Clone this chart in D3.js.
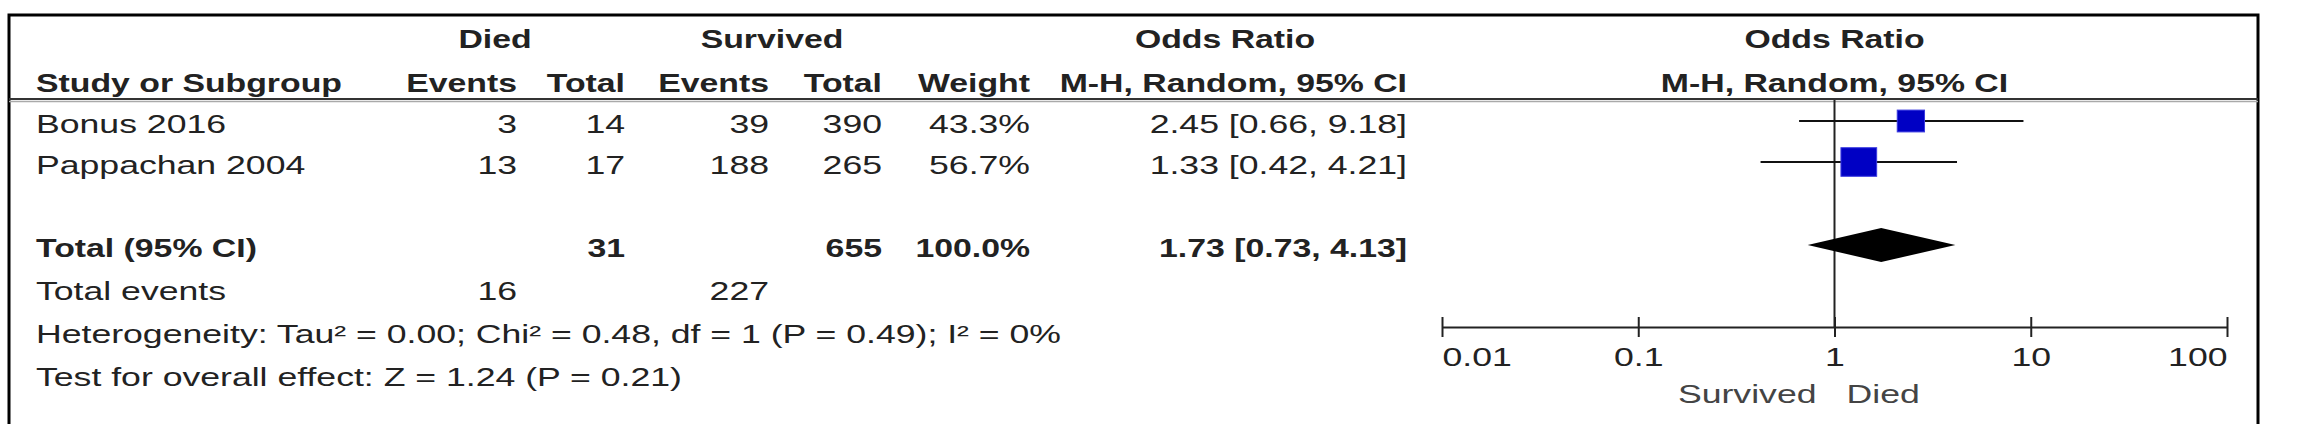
<!DOCTYPE html>
<html>
<head>
<meta charset="utf-8">
<script src="https://cdn.jsdelivr.net/npm/d3@7"></script>
<style>
  html, body { margin: 0; padding: 0; background: #fff; }
  svg text { font-family: "Liberation Sans", Arial, sans-serif; fill: #222; }
</style>
</head>
<body>
<div id="plot"></div>
<script>
  'use strict';

  // study rows
  var studies = ['Bonus 2016', 'Pappachan 2004'];
  var diedEvents = [3, 13];
  var diedTotal = [14, 17];
  var survEvents = [39, 188];
  var survTotal = [390, 265];
  var weights = [43.3, 56.7];
  var orEst = [2.45, 1.33];
  var orLow = [0.66, 0.42];
  var orHigh = [9.18, 4.21];

  // pooled result
  var pooledOR = [1.73, 0.73, 4.13]; // estimate, lower, upper
  var pooledTotals = [31, 655];
  var pooledWeight = 100.0;
  var pooledEvents = [16, 227];
  var heterogeneity = 'Heterogeneity: Tau\u00b2 = 0.00; Chi\u00b2 = 0.48, df = 1 (P = 0.49); I\u00b2 = 0%';
  var overallEffect = 'Test for overall effect: Z = 1.24 (P = 0.21)';

  // axis
  var axisTicks = [0.01, 0.1, 1, 10, 100];
  var tickLabels = ['0.01', '0.1', '1', '10', '100'];
  var favourLabels = ['Survived', 'Died'];

  var W = 2310, H = 424;
  var FS = 26, SX = 1.37, SXB = 1.3;   // font size, horizontal stretch (regular / bold)

  var svg = d3.select('#plot').append('svg')
    .attr('width', W)
    .attr('height', H);

  var x = d3.scaleLog().domain([0.01, 100]).range([1442, 2227]);
  // row index -> row centre (upper block and summary block)
  var rowTop = d3.scaleLinear().domain([0, 1]).range([121, 162]);
  var rowLow = d3.scaleLinear().domain([3, 6]).range([245, 374]);
  function row(i) { return i < 3 ? rowTop(i) : rowLow(i); }
  var axisY = 327;

  // right edges of table columns
  var col = {study: 36, diedE: 517, diedT: 625, survE: 769, survT: 882, weight: 1030, or: 1407};

  function txt(px, py, s, anchor, bold, color) {
    return svg.append('text')
      .attr('transform', 'translate(' + px + ',' + py + ') scale(' + (bold ? SXB : SX) + ',1)')
      .attr('text-anchor', anchor || 'start')
      .style('font-size', FS + 'px')
      .style('font-weight', bold ? 'bold' : 'normal')
      .style('fill', color || '#222')
      .text(s);
  }
  function base(i) { return row(i) + 12; }
  var fmt1 = d3.format('.1f'), fmt2 = d3.format('.2f');

  // frame
  svg.append('path')
    .attr('d', 'M9,' + H + 'V15H2258V' + H)
    .attr('fill', 'none')
    .attr('stroke', '#000')
    .attr('stroke-width', 3);

  // header
  txt(495, 48, 'Died', 'middle', true);
  txt(772, 48, 'Survived', 'middle', true);
  txt(1225, 48, 'Odds Ratio', 'middle', true);
  txt(x(1), 48, 'Odds Ratio', 'middle', true);

  txt(col.study, base(-1), 'Study or Subgroup', 'start', true);
  txt(col.diedE, base(-1), 'Events', 'end', true);
  txt(col.diedT, base(-1), 'Total', 'end', true);
  txt(col.survE, base(-1), 'Events', 'end', true);
  txt(col.survT, base(-1), 'Total', 'end', true);
  txt(col.weight, base(-1), 'Weight', 'end', true);
  txt(col.or, base(-1), 'M-H, Random, 95% CI', 'end', true);
  txt(x(1), base(-1), 'M-H, Random, 95% CI', 'middle', true);

  svg.append('line')
    .attr('x1', 9).attr('x2', 2258).attr('y1', 99).attr('y2', 99)
    .attr('stroke', '#333').attr('stroke-width', 2);
  svg.append('line')
    .attr('x1', 9).attr('x2', 2258).attr('y1', 101.5).attr('y2', 101.5)
    .attr('stroke', '#aaa').attr('stroke-width', 1.5);

  // null line
  svg.append('line')
    .attr('x1', x(1)).attr('x2', x(1))
    .attr('y1', 100).attr('y2', axisY)
    .attr('stroke', '#222').attr('stroke-width', 2);

  // study rows
  studies.forEach(function (s, i) {
    txt(col.study, base(i), s, 'start');
    txt(col.diedE, base(i), diedEvents[i], 'end');
    txt(col.diedT, base(i), diedTotal[i], 'end');
    txt(col.survE, base(i), survEvents[i], 'end');
    txt(col.survT, base(i), survTotal[i], 'end');
    txt(col.weight, base(i), fmt1(weights[i]) + '%', 'end');
    txt(col.or, base(i), fmt2(orEst[i]) + ' [' + fmt2(orLow[i]) + ', ' + fmt2(orHigh[i]) + ']', 'end');

    svg.append('line')
      .attr('x1', x(orLow[i])).attr('x2', x(orHigh[i]))
      .attr('y1', row(i)).attr('y2', row(i))
      .attr('stroke', '#111').attr('stroke-width', 2);
  });

  var side = d3.scaleLinear().domain([0, 100]).range([0, 63]);
  svg.selectAll('rect.study')
    .data(studies)
    .join('rect')
    .attr('class', 'study')
    .attr('x', function (d, i) { return x(orEst[i]) - side(weights[i]) / 2; })
    .attr('y', function (d, i) { return row(i) - side(weights[i]) / 1.25 / 2; })
    .attr('width', function (d, i) { return side(weights[i]); })
    .attr('height', function (d, i) { return side(weights[i]) / 1.25; })
    .attr('fill', '#0000c4')
    .attr('stroke', '#3a3ae0')
    .attr('stroke-width', 1);

  // pooled row
  txt(col.study, base(3), 'Total (95% CI)', 'start', true);
  txt(col.diedT, base(3), pooledTotals[0], 'end', true);
  txt(col.survT, base(3), pooledTotals[1], 'end', true);
  txt(col.weight, base(3), fmt1(pooledWeight) + '%', 'end', true);
  txt(col.or, base(3), fmt2(pooledOR[0]) + ' [' + fmt2(pooledOR[1]) + ', ' + fmt2(pooledOR[2]) + ']', 'end', true);

  var dh = 17;
  svg.append('path')
    .attr('d', 'M' + x(pooledOR[1]) + ',' + row(3) +
      'L' + x(pooledOR[0]) + ',' + (row(3) - dh) +
      'L' + x(pooledOR[2]) + ',' + row(3) +
      'L' + x(pooledOR[0]) + ',' + (row(3) + dh) + 'Z')
    .attr('fill', '#000');

  txt(col.study, base(4), 'Total events', 'start');
  txt(col.diedE, base(4), pooledEvents[0], 'end');
  txt(col.survE, base(4), pooledEvents[1], 'end');
  txt(col.study, base(5), heterogeneity, 'start');
  txt(col.study, base(6), overallEffect, 'start');

  // axis
  var axis = d3.axisBottom(x)
    .tickValues(axisTicks)
    .tickFormat(function (d, i) { return tickLabels[i]; })
    .tickSizeInner(0)
    .tickSizeOuter(0);
  var ag = svg.append('g')
    .attr('transform', 'translate(0,' + axisY + ')')
    .call(axis);
  ag.select('.domain').attr('stroke', '#222').attr('stroke-width', 2);
  ag.selectAll('.tick line')
    .attr('y1', -10).attr('y2', 10)
    .attr('stroke', '#222').attr('stroke-width', 2);
  ag.selectAll('.tick text')
    .attr('y', 0)
    .attr('dy', 0)
    .attr('transform', 'translate(0,39) scale(' + SX + ',1)')
    .attr('text-anchor', function (d, i) { return i === 0 ? 'start' : (i === axisTicks.length - 1 ? 'end' : 'middle'); })
    .style('font-size', FS + 'px')
    .style('font-family', '"Liberation Sans", Arial, sans-serif')
    .style('fill', '#222');

  txt(x(1) - 18, axisY + 76, favourLabels[0], 'end', false, '#444');
  txt(x(1) + 12, axisY + 76, favourLabels[1], 'start', false, '#444');
</script>
</body>
</html>
